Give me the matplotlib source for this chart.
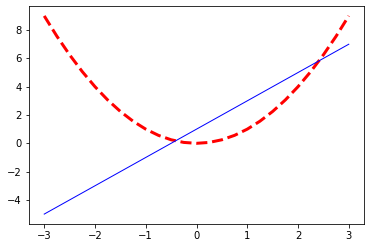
import matplotlib
matplotlib.use("Agg")
import matplotlib.pyplot as plt

# parabola points
curve_x = [-3.0, -2.75, -2.5, -2.25, -2.0, -1.75, -1.5, -1.25, -1.0, -0.75, -0.5, -0.25,
           0.0, 0.25, 0.5, 0.75, 1.0, 1.25, 1.5, 1.75, 2.0, 2.25, 2.5, 2.75, 3.0]
curve_y = [9.0, 7.5625, 6.25, 5.0625, 4.0, 3.0625, 2.25, 1.5625, 1.0, 0.5625, 0.25, 0.0625,
           0.0, 0.0625, 0.25, 0.5625, 1.0, 1.5625, 2.25, 3.0625, 4.0, 5.0625, 6.25, 7.5625, 9.0]

# straight line end points
line_x = [-3.0, 3.0]
line_y = [-5.0, 7.0]

fig = plt.figure(figsize=(370 / 72, 248 / 72), dpi=72)
ax = fig.add_axes([29 / 370, 1 - 224 / 248, 335 / 370, 218 / 248])

ax.plot(curve_x, curve_y, color='red', linestyle='--', linewidth=3)
ax.plot(line_x, line_y, color='blue', linewidth=1)

fig.savefig('out.png', dpi=72)
